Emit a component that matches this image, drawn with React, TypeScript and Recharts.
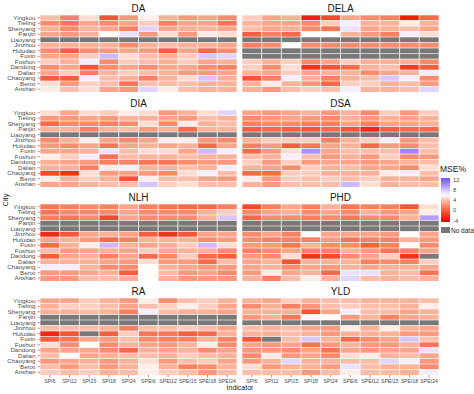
import { BarChart, Bar, Cell, XAxis, YAxis } from "recharts";

// y axis, top to bottom
const CITIES = [
  "Yingkou", "Tieling", "Shenyang", "Panjin", "Liaoyang", "Jinzhou", "Huludao",
  "Fuxin", "Fushun", "Dandong", "Dalian", "Chaoyang", "Benxi", "Anshan",
];
const INDICATORS = ["SPI6", "SPI12", "SPI15", "SPI18", "SPI24", "SPEI6", "SPEI12", "SPEI15", "SPEI18", "SPEI24"];
const LEGEND_TICKS = [12, 8, 4, 0, -4];

const N = null;

// MSE% per city (rows) and indicator (columns)
const DA = [
  [4, 1.5, 5, -0.5, 2.5, 5.5, 3.5, 2.5, 3, 2],
  [2, 1, 3, 2, 3, 4.5, 1.5, 3, 3, 1],
  [3.5, 2, 3.5, 3, 1.5, 7.5, 3, 3.5, 3.5, 3],
  [3, 2.5, 3.5, 6, 7, 2.5, 5, 2.5, 5.5, 5],
  [N, N, N, N, N, N, N, N, N, N],
  [3.5, 3.5, 3.5, 3.5, 2, 3.5, 4, 3.5, 3.5, 3],
  [2, 0, 2, 2.5, 3, 2.5, 0, 3, 0.5, 2],
  [3, 3, 4.5, 8.5, 5, 4, 3.5, 4.5, 8, 7.5],
  [4.5, 3.5, 6.5, 2, 4.5, 4, 3.5, 4.5, 3, 3.5],
  [2, 3, -0.5, 2, 3, 2, 3, 3, 2, 1.5],
  [3, 4.5, 1.5, 3.5, 4.5, 4, 3.5, 2.5, 2.5, 3],
  [0, 0, 6.5, 4, 3.5, 1.5, 3.5, 5, 8, 3.5],
  [5, 2.5, 4.5, 4, 1, 4, 4, 4, 3.5, 3.5],
  [5.5, 4, 5, 3, 2.5, 7.5, 5.5, 4, 3.5, 3.5],
];

const DELA = [
  [4.5, 3, 3.5, -3, -1, 3, 2, 1.5, -3, 0.5],
  [3.5, 3, 3, 2, 4.5, 6.5, 3.5, 3.5, 5.5, 3.5],
  [4, 3, 3.5, 2, 1, 7, 3, 3.5, 4, 3],
  [0, 1.5, 0.5, 6, 6, 3.5, 2.5, 1.5, 6.5, 5],
  [N, N, N, N, N, N, N, N, N, N],
  [1.5, 2, 6, 2, 2, 2, 2, 2, 2, 2],
  [N, N, N, N, N, N, N, N, N, N],
  [N, N, N, N, N, N, N, N, N, N],
  [4.5, 3.5, 4.5, 2, 3, 4.5, 3.5, 3.5, 3.5, 2],
  [4.5, 2, 5, -2, -0.5, 0.5, 3.5, 4, -1.5, 0],
  [3.5, 3, 4.5, 3, 3.5, 3.5, 2, 3, 3.5, 6.5],
  [-0.5, 1.5, 6.5, 3.5, 1.5, 3.5, 4, 8, 6.5, 2],
  [3.5, 5.5, 3.5, 2.5, 0.5, 4.5, 4.5, 3.5, 4, 2.5],
  [3.5, 2.5, 4, 4.5, 4, 6.5, 3.5, 3.5, 4, 7.5],
];

const DIA = [
  [5, 3, 5, 4.5, 5.5, 5, 2.5, 3.5, 5, 7.5],
  [2.5, 2.5, 3, 2.5, 3.5, 3.5, 3, 2.5, 4, 3.5],
  [0.5, 2, 2, 1.5, 2, 5, 2, 5.5, 3.5, 4],
  [3.5, 3.5, 1.5, 3.5, 4, 2.5, 3.5, 0.5, 3.5, 3.5],
  [N, N, N, N, N, N, N, N, N, N],
  [2, 3.5, 5.5, 3, 2, 3, 5.5, 5.5, 2.5, 2],
  [2.5, 2, 3, 1, 3, 3.5, 3, 3.5, 0.5, 3],
  [3, 3, 3.5, 7, 4, 5, 5, 3, 8.5, 6.5],
  [5.5, 4.5, 6.5, 1, 4, 3.5, 3.5, 4, 3.5, 3.5],
  [3.5, 3, 2.5, 1.5, 1.5, 1, 1, 2, 2.5, 2.5],
  [3.5, 3.5, 1.5, 5.5, 6.5, 3.5, 3.5, 4, 3.5, 6.5],
  [-1, -2, 5, 2.5, 3, 2.5, 2, 5, 6.5, 4],
  [5.5, 3.5, 4.5, 3.5, -0.5, 5.5, 4, 4, 3, 2.5],
  [3, 3, 3.5, 4, 4, 8, 4.5, 5, 4, 4],
];

const DSA = [
  [3, 2.5, 3, 3.5, 2.5, 3.5, 2, 4.5, 2.5, 4.5],
  [2, 2.5, 3, 2.5, 2, 3.5, 2.5, 3.5, 3, 3.5],
  [1.5, 2, 2, 1.5, 1.5, 3, 1.5, 3, 3, 3.5],
  [0, 0.5, 0, -0.5, 0.5, -0.5, -2.5, 0, 0.5, 0.5],
  [N, N, N, N, N, N, N, N, N, N],
  [3.5, 4.5, 4.5, 4.5, 1.5, 3.5, 4.5, 6.5, 2.5, 4],
  [1.5, 2.5, 0, 1, 3, 3.5, 0.5, 2.5, 2, 4],
  [0.5, 2.5, 5, 10, 3, 4, 4, 4, 10.5, 4],
  [4, 3.5, 6.5, 4, 2.5, 3.5, 2.5, 4.5, 2, 2.5],
  [4.5, 2.5, 4.5, 2.5, 3, 3, 2.5, 3, 3.5, 4],
  [3.5, 3, 2, 4.5, 3.5, 4, 3, 3, 2, 5],
  [0.5, 0.5, 4.5, 4.5, 3.5, 3.5, 3.5, 5.5, 6.5, 4],
  [5.5, 2.5, 4.5, 4, 4.5, 4, 4.5, 3.5, 3.5, 3],
  [3.5, 2.5, 4, 4, 4, 8.5, 5, 3.5, 4, 4],
];

const NLH = [
  [1, 1.5, 2, 1.5, 3, 1.5, 1, 0.5, 0.5, 1.5],
  [1, 2, 2, 2, 3, 2, 2, 2, 3.5, 4.5],
  [1.5, 1, 2, -1, 3, 2, 2, 2, 3.5, 8],
  [N, N, N, N, N, N, N, N, N, N],
  [N, N, N, N, N, N, N, N, N, N],
  [-2.5, -0.5, 3, 3.5, 3, 0, -2, -0.5, 3, 3],
  [3, 3.5, 2.5, 0.5, 1.5, 3.5, 3.5, 3.5, 2, 2.5],
  [0.5, 3.5, 5.5, 8.5, 3.5, 3, 3.5, 4.5, 8.5, 5],
  [4, 2.5, 3, 3.5, 3, 4.5, 3, 3.5, 3.5, 2],
  [0, 3, 3.5, 1.5, 3, 0.5, 2, 4.5, 0.5, 0],
  [3.5, 3.5, 3.5, 3, 2.5, 5, 2.5, 2.5, 0.5, 4],
  [6.5, 6.5, 3.5, 2, 2, 6, 3.5, 3, 2.5, 2.5],
  [2.5, 2.5, 3, 3.5, 0, 6, 4, 2.5, 3, 2],
  [2.5, 2.5, 4, 4, 3.5, 6, 3.5, 2.5, 2.5, 2.5],
];

const PHD = [
  [-1, 1.5, 3, 1.5, 3.5, 1, 1.5, 1.5, -0.5, 5],
  [2, 3, 3.5, 2, 3, 2, 3.5, 2.5, 3, 5.5],
  [0.5, 2, 2, 1.5, 2, 1, 2, 2, 3.5, 9.5],
  [N, N, N, N, N, N, N, N, N, N],
  [N, N, N, N, N, N, N, N, N, N],
  [2, 3, 1.5, 6, 3, 3, 3, 2.5, 6, 3],
  [2, 1.5, 1.5, 1.5, 2.5, 1, 1.5, 1.5, 3.5, 2.5],
  [2.5, 2.5, 1, 3.5, 2, 2, 0, 1.5, 6, 2],
  [1.5, 2, 3, 1.5, 1.5, 3.5, 2.5, 1, 1.5, 3],
  [2.5, 2, 5, -2, -1, 2, 3, 4.5, -2, N],
  [3, 3.5, -0.5, 3.5, 3.5, 3.5, 1.5, 2, 1.5, 4.5],
  [3, 3.5, 2, 3, 2.5, 3.5, 3, 3.5, 3.5, 3],
  [2.5, 5.5, 3, 3.5, 0.5, 7, 7, 3.5, 4, 1],
  [3.5, 1.5, 4, 5.5, 3.5, 7.5, 4, 3.5, 4, 3.5],
];

const RA = [
  [3, 3, 4.5, 3.5, 2.5, 5.5, 2, 4, 4.5, 3.5],
  [3.5, 4.5, 4.5, 4, 3, 4, 4.5, 5.5, 4.5, 3],
  [3.5, 3.5, 4, 3.5, 1.5, 6.5, 4, 3.5, 3.5, 3],
  [N, N, N, N, N, N, N, N, N, N],
  [N, N, N, N, N, N, N, N, N, N],
  [4, 4, 4, 3.5, 1.5, 4, 4, 4.5, 4, 3],
  [-2.5, -0.5, N, 0, 4.5, 1, 1, 0, 0.5, 3.5],
  [0, 1, 3, 2.5, 4, 2, 1.5, 1.5, 3.5, 1.5],
  [5, 2, 6, 2, 3.5, 3, 2.5, 3.5, 5.5, 2],
  [3, 3, 3, 2, 0.5, 3.5, 3, 3.5, 2, 3],
  [4, 6, 3, 3.5, 4, 4, 3.5, 4.5, 4, 3.5],
  [2.5, 3, 3.5, 2.5, 3.5, 5, 2.5, 4, 4.5, 3],
  [4, 2.5, 4, 2.5, 3.5, 5.5, 3.5, 1.5, 2, 3.5],
  [4.5, 4, 4.5, 3.5, 4, 5.5, 4.5, 4, 2.5, 4],
];

const YLD = [
  [3.5, 3, 4.5, 3.5, 4, 4, 3.5, 3.5, 3.5, 4],
  [2, 3.5, 1.5, 2.5, 4, 4.5, 4, 4, 3.5, 5.5],
  [3.5, 3.5, 3.5, -0.5, 3, 6.5, 4, 4, 3, 3.5],
  [2.5, 3.5, 1, 6, 6, 2.5, 3.5, 1.5, 3, 3.5],
  [N, N, N, N, N, N, N, N, N, N],
  [4, 3.5, 4, 3, 2.5, 5.5, 3.5, 5.5, 3.5, 3],
  [3.5, 3.5, 4, 3.5, 2.5, 3.5, 3.5, 3.5, 2.5, 2.5],
  [-0.5, N, 4, 8, 3.5, 0.5, 2, 3, 8, 4],
  [3, 2.5, 3, 1, 2.5, 3.5, 2.5, 2.5, 3.5, 1],
  [2.5, 2.5, 2, 3, 1, 3, 2.5, 3, 3, 7],
  [2, 5.5, 2.5, 3, 2, 5, 5.5, 3.5, 4, 3],
  [2.5, 3.5, 7.5, 3.5, 3.5, 4, 4, 7.5, 6.5, 2.5],
  [5, 2.5, 3.5, 3.5, 2.5, 7, 4, 3.5, 3.5, 2],
  [4, 4, 4, 2.5, 4, 5.5, 4, 4, 3.5, 6.5],
];

const PANELS = [
  { name: "DA", values: DA },
  { name: "DELA", values: DELA },
  { name: "DIA", values: DIA },
  { name: "DSA", values: DSA },
  { name: "NLH", values: NLH },
  { name: "PHD", values: PHD },
  { name: "RA", values: RA },
  { name: "YLD", values: YLD },
];

// colour stops of the fill scale (value -> rgb)
const STOPS: [number, number[]][] = [
  [-4.5, [238, 0, 0]],
  [-2, [242, 50, 28]],
  [0, [245, 95, 65]],
  [2, [249, 140, 110]],
  [4, [252, 190, 170]],
  [6, [255, 252, 252]],
  [8, [214, 200, 255]],
  [10, [168, 145, 255]],
  [12.5, [120, 90, 245]],
];
const NA_FILL = "#787878";

function fillFor(v: number | null) {
  if (v === null) return NA_FILL;
  if (v <= STOPS[0][0]) return `rgb(${STOPS[0][1].join(",")})`;
  for (let i = 1; i < STOPS.length; i++) {
    const [v1, c1] = STOPS[i];
    const [v0, c0] = STOPS[i - 1];
    if (v <= v1) {
      const t = (v - v0) / (v1 - v0);
      const c = c0.map((x, k) => Math.round(x + (c1[k] - x) * t));
      return `rgb(${c.join(",")})`;
    }
  }
  return `rgb(${STOPS[STOPS.length - 1][1].join(",")})`;
}

const FONT = "'Liberation Sans', Arial, sans-serif";
const PLOT_H = 77;
const ROW_TOPS = [15, 109.5, 204, 298];
const LEFT_X = 40;
const RIGHT_X = 242;
const PLOT_W = 197;
const Y_AXIS_W = 40;
const X_AXIS_H = 12;
const TICK_POS = INDICATORS.map((_, i) => i + 0.5);

function Panel({ name, values, idx }: { name: string; values: (number | null)[][]; idx: number }) {
  const col = idx % 2;
  const row = Math.floor(idx / 2);
  const showY = col === 0;
  const showX = row === 3;

  // each tile is one unit wide, stacked along the indicator axis
  const data = CITIES.map((city) => {
    const o: Record<string, string | number> = { city };
    INDICATORS.forEach((_, c) => (o["k" + c] = 1));
    return o;
  });

  const width = PLOT_W + (showY ? Y_AXIS_W : 0);
  const height = PLOT_H + (showX ? X_AXIS_H : 0);
  const left = col === 0 ? LEFT_X - Y_AXIS_W : RIGHT_X;

  return (
    <>
      <div
        style={{
          position: "absolute",
          left: col === 0 ? LEFT_X : RIGHT_X,
          width: PLOT_W,
          top: ROW_TOPS[row] - 12,
          textAlign: "center",
          fontSize: 10,
          lineHeight: "11px",
          color: "#1a1a1a",
        }}
      >
        {name}
      </div>
      <div style={{ position: "absolute", left, top: ROW_TOPS[row] }}>
        <BarChart
          width={width}
          height={height}
          data={data}
          layout="vertical"
          margin={{ top: 0, right: 0, bottom: 0, left: 0 }}
          barCategoryGap={0}
        >
          <XAxis
            type="number"
            domain={[0, 10]}
            ticks={TICK_POS}
            interval={0}
            hide={!showX}
            height={X_AXIS_H}
            axisLine={false}
            tickLine={{ stroke: "#666", strokeWidth: 0.6 }}
            tickSize={2.5}
            tick={{ fontSize: 5.2, fill: "#4d4d4d", fontFamily: FONT }}
            tickFormatter={(v: number) => INDICATORS[Math.floor(v)]}
          />
          <YAxis
            type="category"
            dataKey="city"
            hide={!showY}
            width={Y_AXIS_W}
            interval={0}
            axisLine={false}
            tickLine={{ stroke: "#666", strokeWidth: 0.6 }}
            tickSize={2.5}
            tick={{ fontSize: 6.2, fill: "#4d4d4d", fontFamily: FONT }}
          />
          {INDICATORS.map((ind, c) => (
            <Bar key={ind} dataKey={"k" + c} stackId="tiles" isAnimationActive={false}>
              {values.map((r, ri) => (
                <Cell key={ri} fill={fillFor(r[c])} stroke="#ffffff" strokeWidth={0.6} />
              ))}
            </Bar>
          ))}
        </BarChart>
      </div>
    </>
  );
}

function Legend() {
  const top = 180;
  const perUnit = 41 / 16;
  const barTop = top - 0.8 * perUnit;
  const barBottom = top + 16.5 * perUnit;
  const grad = STOPS.slice()
    .reverse()
    .map(([v, c]) => `rgb(${c.join(",")}) ${(((12.8 - v) * perUnit) / (barBottom - barTop)) * 100}%`)
    .join(", ");
  return (
    <>
      <div style={{ position: "absolute", left: 440, top: 164, fontSize: 8.5, color: "#1a1a1a" }}>MSE%</div>
      <div
        style={{
          position: "absolute",
          left: 441,
          top: barTop,
          width: 9,
          height: barBottom - barTop,
          background: `linear-gradient(to bottom, ${grad})`,
        }}
      />
      {LEGEND_TICKS.map((t) => (
        <div
          key={t}
          style={{
            position: "absolute",
            left: 453,
            top: top + (12 - t) * perUnit - 3.5,
            fontSize: 5.8,
            lineHeight: "7px",
            color: "#4d4d4d",
          }}
        >
          {t}
        </div>
      ))}
      <div style={{ position: "absolute", left: 441, top: 227, width: 9, height: 6, background: NA_FILL }} />
      <div
        style={{
          position: "absolute",
          left: 451,
          top: 225.5,
          fontSize: 6.5,
          lineHeight: "9px",
          color: "#1a1a1a",
          whiteSpace: "nowrap",
        }}
      >
        No data
      </div>
    </>
  );
}

export default function App() {
  return (
    <div
      style={{
        position: "absolute",
        left: 0,
        top: 0,
        width: 474,
        height: 394,
        background: "#fff",
        fontFamily: FONT,
        overflow: "hidden",
      }}
    >
      {PANELS.map((p, i) => (
        <Panel key={p.name} name={p.name} values={p.values} idx={i} />
      ))}
      <Legend />
      <div
        style={{
          position: "absolute",
          left: 5,
          top: 200,
          transform: "translate(-50%, -50%) rotate(-90deg)",
          fontSize: 7.5,
          color: "#1a1a1a",
        }}
      >
        City
      </div>
      <div
        style={{
          position: "absolute",
          left: 240,
          top: 383,
          transform: "translateX(-50%)",
          fontSize: 7,
          lineHeight: "9px",
          color: "#1a1a1a",
        }}
      >
        Indicator
      </div>
    </div>
  );
}
